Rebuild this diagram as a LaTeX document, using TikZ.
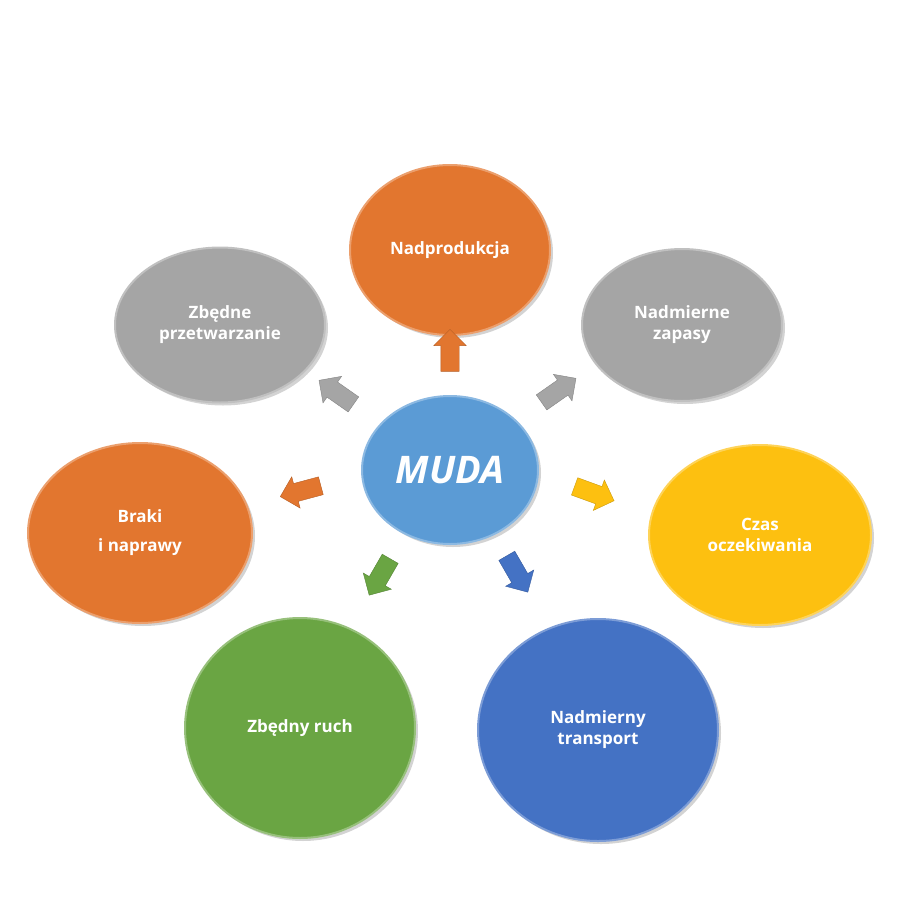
\documentclass[tikz,border=0pt]{standalone}
\usepackage{fontspec}
\setmainfont{Open Sans}
\usetikzlibrary{shapes.geometric,shapes.arrows,shadows}
\definecolor{org}{HTML}{E2762F}
\definecolor{gry}{HTML}{A5A5A5}
\definecolor{yel}{HTML}{FDC010}
\definecolor{blu}{HTML}{4472C4}
\definecolor{grn}{HTML}{6AA543}
\definecolor{mud}{HTML}{5B9BD5}
\tikzset{
 blob/.style={ellipse,draw=#1!70!white,line width=2pt,fill=#1,text=white,font=\bfseries\fontsize{17}{21}\selectfont,align=center,drop shadow={shadow xshift=3pt,shadow yshift=-3pt,opacity=0.35}},
 barrow/.style={single arrow,fill=#1,draw=#1!80!black,line width=0.4pt,minimum height=42pt,inner sep=9pt,single arrow head extend=7pt,single arrow head indent=0pt}
}
\begin{document}
\begin{tikzpicture}[x=1pt,y=-1pt]
\useasboundingbox (0,0) rectangle (900,900);
\node[blob=org,minimum width=200,minimum height=170] (np) at (450,250) {Nadprodukcja};
\node[blob=gry,minimum width=200,minimum height=152] (nz) at (682,325) {Nadmierne\\zapasy};
\node[blob=gry,minimum width=210,minimum height=155] (zp) at (220,325) {Zbędne\\przetwarzanie};
\node[blob=yel,minimum width=222,minimum height=180] (co) at (760,535) {Czas\\oczekiwania};
\node[blob=org,minimum width=224,minimum height=180] (br) at (140,533) {Braki\\[8pt]i naprawy};
\node[blob=grn,minimum width=230,minimum height=220] (zr) at (300,728) {Zbędny ruch};
\node[blob=blu,minimum width=240,minimum height=222] (nt) at (598,730) {Nadmierny\\transport};
\node[blob=mud,minimum width=176,minimum height=148,font=\bfseries\itshape\fontsize{38}{44}\selectfont] (m) at (450,470) {MUDA};
\node[barrow=org,rotate=90] (a1) at (450,355) {};
\node[barrow=gry,rotate=145] (a2) at (340,395) {};
\node[barrow=gry,rotate=35] (a3) at (555,393) {};
\node[barrow=yel,rotate=-20] (a4) at (590,492) {};
\node[barrow=org,rotate=195] (a5) at (305,490) {};
\node[barrow=grn,rotate=240] (a6) at (382,573) {};
\node[barrow=blu,rotate=-60] (a7) at (515,570) {};
\end{tikzpicture}
\end{document}
